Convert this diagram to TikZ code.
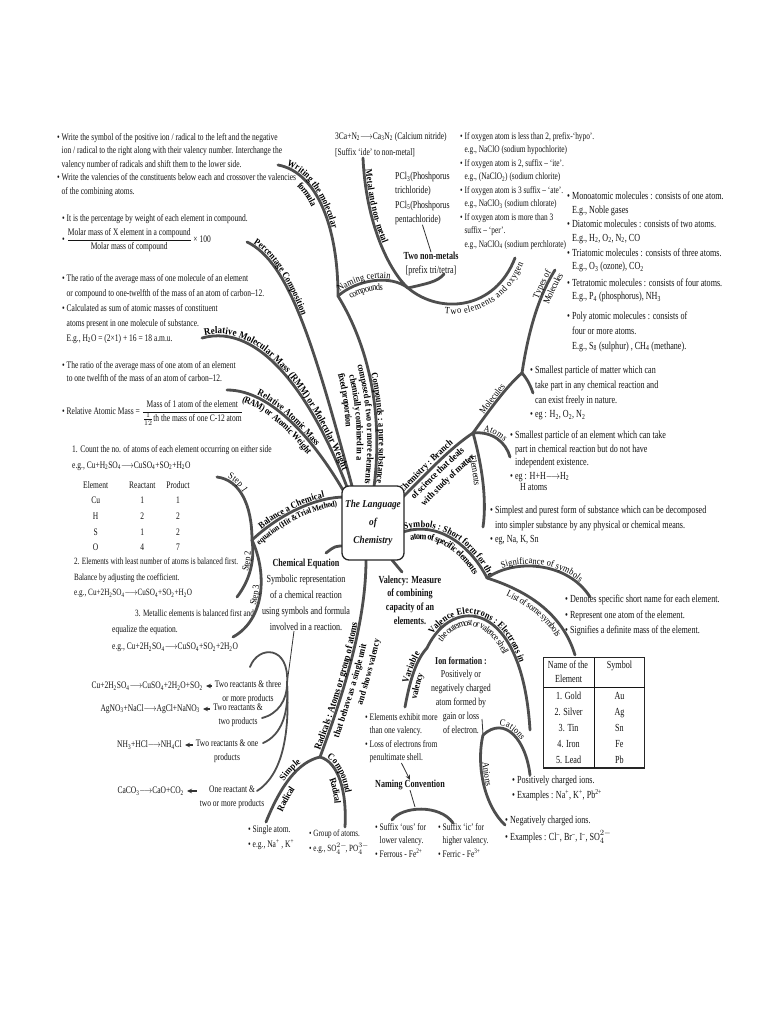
\documentclass[tikz,border=0pt]{standalone}
\usepackage{fontspec}
\setmainfont{Liberation Serif}[FakeStretch=0.75]
\newfontfamily\labfam{Liberation Serif}[FakeStretch=0.88]
\usepackage{amsmath}
\usepackage{array}
\usetikzlibrary{arrows.meta, decorations.text}

\definecolor{brgray}{RGB}{78,78,78}
\newcommand\txtsz{\fontsize{10}{13.5}\selectfont}
\newcommand\txtszb{\fontsize{10.8}{13.5}\selectfont}
\newcommand\lf{\labfam\bfseries\fontsize{9.5}{11}\selectfont}
\newcommand\lfb{\labfam\bfseries\fontsize{10}{12}\selectfont}
\newcommand\lfn{\labfam\fontsize{9.5}{11}\selectfont}
\newcommand\lfs{\labfam\bfseries\fontsize{8.3}{10}\selectfont}
\newcommand\sbs[1]{\textsubscript{#1}}
\newcommand\sps[1]{\textsuperscript{#1}}
\newcommand\rarr{\scalebox{0.8}[1]{$\longrightarrow$}}
\newcommand\ind{\phantom{\textbullet\ }}

\tikzset{
  txt/.style={font=\txtsz, align=left, inner sep=0pt, anchor=north west},
  txtb/.style={font=\txtszb, align=left, inner sep=0pt, anchor=north west},
  ctxt/.style={font=\txtsz, align=center, inner sep=0pt},
  branch/.style={draw=brgray, line width=2.8pt, line cap=round},
  twig/.style={draw=brgray, line width=1.8pt, line cap=round},
  thinln/.style={draw=black!80, line width=0.8pt},
  arr/.style={draw=black!80, line width=1.3pt, -{Stealth[length=5pt,width=4.5pt]}},
  lbl/.style n args={3}{postaction={decorate, decoration={text along path, raise=#1, text align={#2}, text={|\lf|#3}}}},
  lblb/.style n args={3}{postaction={decorate, decoration={text along path, raise=#1, text align={#2}, text={|\lfb|#3}}}},
  lbln/.style n args={3}{postaction={decorate, decoration={text along path, raise=#1, text align={#2}, text={|\lfn|#3}}}},
  lbls/.style n args={3}{postaction={decorate, decoration={text along path, raise=#1, text align={#2}, text={|\lfs|#3}}}},
}

\begin{document}
\begin{tikzpicture}[x=1pt, y=-1pt, color=black!92]
\fill[white] (0,0) rectangle (768,1024);
\useasboundingbox (0,0) rectangle (768,1024);

% junctions and free ends
\coordinate (J1) at (338,296);
\coordinate (J2) at (408,288);
\coordinate (JS) at (252,540);
\coordinate (JR) at (320,757);
\coordinate (JV) at (427,648);
\coordinate (JI) at (483,735);
\coordinate (JM) at (473,433);
\coordinate (JM2) at (522,373);
\coordinate (JY) at (487,578);
\coordinate (H) at (287,684);
\coordinate (nchub) at (415,807);
\coordinate (wEnd) at (278,165);
\coordinate (mnEnd) at (363,158);
\coordinate (tnEnd) at (444,274);
\coordinate (teoEnd) at (515,258);
\coordinate (pcEnd) at (247,242);
\coordinate (rmmEnd) at (202,338);
\coordinate (ramEnd) at (227,390);
\coordinate (s1End) at (217,477);
\coordinate (s2End) at (237,597);
\coordinate (s3End) at (233,637);
\coordinate (srEnd) at (266,822);
\coordinate (crEnd) at (345,827);
\coordinate (vvEnd) at (405,707);
\coordinate (veEnd) at (530,730);
\coordinate (catEnd) at (530,775);
\coordinate (anEnd) at (505,825);
\coordinate (typEnd) at (555,270);
\coordinate (mdEnd) at (533,393);
\coordinate (atEnd) at (510,457);
\coordinate (elEnd) at (483,527);
\coordinate (sigEnd) at (590,597);
\coordinate (lstEnd) at (575,655);
\coordinate (ceEnd) at (326,553);
\coordinate (valEnd) at (402,572);
\coordinate (ncL) at (392,820);
\coordinate (ncR) at (453,823);
\coordinate (ionEnd) at (482,719);
\coordinate (r1) at (250,667);
\coordinate (r2) at (262,718);
\coordinate (r3) at (263,743);
\coordinate (r4) at (257,791);
\coordinate (inRAM) at (343,490);
\coordinate (inRMM) at (347,487);
\coordinate (inPC) at (352,486);
\coordinate (inCS) at (374,487);
\coordinate (inBAL) at (345,497);
\coordinate (inCE) at (345,546);
\coordinate (inR) at (366,560);
\coordinate (inV) at (392,560);
\coordinate (inCB) at (403,497);
\coordinate (inSY) at (403,532);

% left column texts
\node[txt] (formulatxt) at (57,133) {\textbullet\ Write the symbol of the positive ion / radical to the left and the negative\\
\ind ion / radical to the right along with their valency number. Interchange the\\
\ind valency number of radicals and shift them to the lower side.\\
\textbullet\ Write the valencies of the constituents below each and crossover the valencies\\
\ind of the combining atoms.};
\node[txt] (pcttxt) at (62,214) {\textbullet\ It is the percentage by weight of each element in compound.};
\node[txt, anchor=west] (pctfrac) at (62,240) {\textbullet\ $\dfrac{\text{Molar mass of X element in a compound}}{\text{Molar mass of compound}}$\,× 100};
\node[txt, font=\fontsize{10}{15}\selectfont] (rmmtxt) at (62,274) {\textbullet\ The ratio of the average mass of one molecule of an element\\
\ind or compound to one-twelfth of the mass of an atom of carbon--12.\\
\textbullet\ Calculated as sum of atomic masses of constituent\\
\ind atoms present in one molecule of substance.\\
\ind E.g., H\sbs{2}O = (2×1) + 16 = 18 a.m.u.};
\node[txt] (ramtxt) at (62,361) {\textbullet\ The ratio of the average mass of one atom of an element\\
\ind to one twelfth of the mass of an atom of carbon--12.};
\node[txt, anchor=west] (ramfrac) at (62,413) {\textbullet\ Relative Atomic Mass = $\dfrac{\text{Mass of 1 atom of the element}}{\frac{1}{12}\text{th the mass of one C-12 atom}}$};
\node[txt, font=\fontsize{10}{16}\selectfont] (step1txt) at (72,445) {1. Count the no. of atoms of each element occurring on either side\\
e.g., Cu+H\sbs{2}SO\sbs{4}\rarr CuSO\sbs{4}+SO\sbs{2}+H\sbs{2}O};
\node[txt] (atomtab) at (83,477) {\renewcommand\arraystretch{1.16}\begin{tabular}{@{}c@{\hspace{21pt}}c@{\hspace{11pt}}c@{}}
Element & Reactant & Product\\ Cu & 1 & 1\\ H & 2 & 2\\ S & 1 & 2\\ O & 4 & 7\end{tabular}};
\node[txt, font=\fontsize{9.6}{15.5}\selectfont] (step2txt) at (74,558) {2. Elements with least number of atoms is balanced first.\\
Balance by adjusting the coefficient.\\
e.g., Cu+2H\sbs{2}SO\sbs{4}\rarr CuSO\sbs{4}+SO\sbs{2}+H\sbs{2}O};
\node[txt, font=\fontsize{9.6}{13.5}\selectfont] (step3txt) at (135,610) {3. Metallic elements is balanced first and};
\node[txt] (step3txtb) at (112,625) {equalize the equation.\\[4pt]
e.g., Cu+2H\sbs{2}SO\sbs{4}\rarr CuSO\sbs{4}+SO\sbs{2}+2H\sbs{2}O};

% reaction types
\node[ctxt] (d1) at (248,692) {Two reactants \& three\\or more products};
\node[ctxt] (d2) at (238,715) {Two reactants \&\\two products};
\node[ctxt] (d3) at (227,751) {Two reactants \& one\\products};
\node[ctxt] (d4) at (232,797) {One reactant \&\\two or more products};
\node[txt, anchor=east] (e1) at (203,686) {Cu+2H\sbs{2}SO\sbs{4}\rarr CuSO\sbs{4}+2H\sbs{2}O+SO\sbs{2}};
\node[txt, anchor=east] (e2) at (200,709) {AgNO\sbs{3}+NaCl\rarr AgCl+NaNO\sbs{3}};
\node[txt, anchor=east] (e3) at (182,745) {NH\sbs{3}+HCl\rarr NH\sbs{4}Cl};
\node[txt, anchor=east] (e4) at (184,791) {CaCO\sbs{3}\rarr CaO+CO\sbs{2}};
\foreach \i in {1,2,3,4}
  \draw[arr] ([xshift=-3pt]e\i.east -| d\i.west) -- ([xshift=3pt]e\i.east);

% top and right texts
\node[txt, font=\fontsize{10}{16}\selectfont] (ca3n2) at (335,132) {3Ca+N\sbs{2}\rarr Ca\sbs{3}N\sbs{2} (Calcium nitride)\\{[}Suffix `ide' to non-metal{]}};
\node[txtb, font=\fontsize{10.5}{14.3}\selectfont] (pcl) at (395,172) {PCl\sbs{3}(Phoshporus\\trichloride)\\PCl\sbs{5}(Phoshporus\\pentachloride)};
\node[ctxt, font=\txtszb] (nonmet) at (431,264) {\textbf{Two non-metals}\\{[}prefix tri/tetra{]}};
\node[txt, font=\fontsize{9.8}{13.5}\selectfont] (oxytxt) at (460,132) {\textbullet\ If oxygen atom is less than 2, prefix-`hypo'.\\
\ind e.g., NaClO (sodium hypochlorite)\\
\textbullet\ If oxygen atom is 2, suffix -- `ite'.\\
\ind e.g., (NaClO\sbs{2}) (sodium chlorite)\\
\textbullet\ If oxygen atom is 3 suffix -- `ate'.\\
\ind e.g., NaClO\sbs{3} (sodium chlorate)\\
\textbullet\ If oxygen atom is more than 3\\
\ind suffix -- `per'.\\
\ind e.g., NaClO\sbs{4} (sodium perchlorate)};
\node[txtb] (moltypes) at (567,192) {\textbullet\ Monoatomic molecules : consists of one atom.\\
\ind E.g., Noble gases\\[1pt]
\textbullet\ Diatomic molecules : consists of two atoms.\\
\ind E.g., H\sbs{2}, O\sbs{2}, N\sbs{2}, CO\\[1.5pt]
\textbullet\ Triatomic molecules : consists of three atoms.\\
\ind E.g., O\sbs{3} (ozone), CO\sbs{2}\\[3pt]
\textbullet\ Tetratomic molecules : consists of four atoms.\\
\ind E.g., P\sbs{4} (phosphorus), NH\sbs{3}\\[6pt]
\textbullet\ Poly atomic molecules : consists of\\[1.5pt]
\ind four or more atoms.\\[1.5pt]
\ind E.g., S\sbs{8} (sulphur) , CH\sbs{4} (methane).};
\node[txtb, font=\fontsize{10.8}{14.7}\selectfont] (moltxt) at (530,366) {\textbullet\ Smallest particle of matter which can\\
\ind take part in any chemical reaction and\\
\ind can exist freely in nature.\\
\textbullet\ eg : H\sbs{2}, O\sbs{2}, N\sbs{2}};
\node[txtb] (atomtxt) at (510,431) {\textbullet\ Smallest particle of an element which can take\\
\ind part in chemical reaction but do not have\\
\ind independent existence.\\
\textbullet\ eg : H+H\rarr H\sbs{2}\\[-2pt]
\ind\hspace{5pt}H atoms};
\node[txtb, font=\fontsize{10.8}{14.5}\selectfont] (elemtxt) at (490,506) {\textbullet\ Simplest and purest form of substance which can be decomposed\\
\ind into simpler substance by any physical or chemical means.\\
\textbullet\ eg, Na, K, Sn};
\node[txtb, font=\fontsize{10.8}{15.5}\selectfont] (sigtxt) at (565,595) {\textbullet\ Denotes specific short name for each element.\\
\textbullet\ Represent one atom of the element.\\
\textbullet\ Signifies a definite mass of the element.};
\node[draw=black!85, line width=1.2pt, inner sep=0pt, anchor=north west, font=\txtszb] (symtab) at (543,657) {\setlength\tabcolsep{3pt}\renewcommand\arraystretch{1.18}%
\begin{tabular}{>{\centering\arraybackslash}p{44pt}!{\vrule width 0.9pt}>{\centering\arraybackslash}p{44pt}}
Name of the\newline Element & Symbol\\ \noalign{\hrule height 1.3pt}
1. Gold & Au\\ 2. Silver & Ag\\ 3. Tin & Sn\\ 4. Iron & Fe\\ 5. Lead & Pb
\end{tabular}};
\node[txtb, font=\fontsize{10.8}{15}\selectfont] (cattxt) at (512,776) {\textbullet\ Positively charged ions.\\ \textbullet\ Examples : Na\sps{+}, K\sps{+}, Pb\sps{2+}};
\node[txtb, font=\fontsize{10.8}{16.5}\selectfont] (antxt) at (505,816) {\textbullet\ Negatively charged ions.\\ \textbullet\ Examples : Cl\sps{--}, Br\sps{--}, I\sps{--}, SO$_4^{2-}$};

% lower middle texts
\node[ctxt, font=\fontsize{10.8}{16}\selectfont] (chemeq) at (306,595) {\textbf{Chemical Equation}\\Symbolic representation\\of a chemical reaction\\using symbols and formula\\involved in a reaction.};
\node[ctxt, font=\bfseries\fontsize{10.8}{13.7}\selectfont] (valency) at (410,600) {Valency: Measure\\of combining\\capacity of an\\elements.};
\node[ctxt, font=\fontsize{10.5}{13.8}\selectfont] (ionf) at (461,695) {\textbf{Ion formation :}\\Positively or\\negatively charged\\atom formed by\\gain or loss\\of electron.};
\node[txt] (varval) at (365,713) {\textbullet\ Elements exhibit more\\ \ind than one valency.\\ \textbullet\ Loss of electrons from\\ \ind penultimate shell.};
\node[font=\bfseries\txtszb, inner sep=0pt] (namconv) at (410,785) {Naming Convention};
\node[txt] (oustxt) at (375,823) {\textbullet\ Suffix `ous' for\\ \ind lower valency.\\ \textbullet\ Ferrous - Fe\sps{2+}};
\node[txt] (ictxt) at (438,823) {\textbullet\ Suffix `ic' for\\ \ind higher valency.\\ \textbullet\ Ferric - Fe\sps{3+}};
\node[txt, font=\fontsize{10}{15}\selectfont] (simptxt) at (248,825) {\textbullet\ Single atom.\\ \textbullet\ e.g., Na\sps{+} , K\sps{+}};
\node[txt, font=\fontsize{9.5}{15}\selectfont] (comptxt) at (309,830) {\textbullet\ Group of atoms.\\ \textbullet\ e.g., SO$_4^{2-}$\!, PO$_4^{3-}$};

% branches, upper left
\draw[branch, lbl={2pt}{left, left indent=8pt}{Writing the molecular}, lbl={-10pt}{left, left indent=30pt}{formula}] (wEnd) .. controls (316,172) and (338,225) .. (J1);
\draw[branch, lbln={2pt}{left, left indent=4pt}{Naming certain}, lbln={-10pt}{left, left indent=10pt}{compounds}, lbln={-10pt}{right, right indent=2pt}{Two elements and oxygen}] (J1) .. controls (356,280) and (390,274) .. (J2) .. controls (440,315) and (495,310) .. (teoEnd);
\draw[branch, lbl={2pt}{left, left indent=12pt}{Metal and non- metal}] (mnEnd) .. controls (366,225) and (390,272) .. (J2);
\draw[branch] (J2) .. controls (425,284) and (438,282) .. (tnEnd);
\draw[thinln] (pcl.south) -- (nonmet.north);
\draw[branch, lbl={2pt}{right, right indent=4pt}{Compounds : a pure substance}, lbl={-9.5pt}{right, right indent=2pt}{composed of two or more elements}, lbl={-20pt}{right, right indent=26pt}{chemically combined in a}, lbl={-30.5pt}{right, right indent=62pt}{fixed proportion}] (J1) .. controls (362,335) and (385,400) .. (inCS);
\draw[branch, lbl={2pt}{left, left indent=6pt}{Percentage Composition}] (pcEnd) .. controls (290,262) and (315,350) .. (inPC);
\draw[branch, lblb={2pt}{left, left indent=3pt}{Relative Molecular Mass (RMM) or Molecular Weight}] (rmmEnd) .. controls (260,322) and (312,396) .. (inRMM);
\draw[branch, lbl={2pt}{left, left indent=30pt}{Relative Atomic Mass}, lbl={-10pt}{left, left indent=18pt}{(RAM) or Atomic Weight}] (ramEnd) .. controls (272,390) and (315,442) .. (inRAM);

% branches, left
\draw[branch, lbl={2pt}{left, left indent=14pt}{Balance a Chemical}, lbls={-9pt}{left, left indent=2pt}{equation (Hit {\&}Trial Method)}] (JS) .. controls (282,512) and (318,497) .. (inBAL);
\draw[branch, lbln={2pt}{left, left indent=10pt}{Step 1}] (s1End) .. controls (240,480) and (252,505) .. (JS);
\draw[branch, lbln={2pt}{left, left indent=28pt}{Step 2}] (s2End) .. controls (250,580) and (255,560) .. (JS);
\draw[branch, lbln={2pt}{left, left indent=40pt}{Step 3}] (s3End) .. controls (264,620) and (268,575) .. (JS);
\draw[branch] (inCE) .. controls (335,546) .. (ceEnd);
\draw[thinln] ([xshift=-12pt]chemeq.south) -- (H);
\draw[twig] (r1) .. controls (258,645) and (290,645) .. (H);
\draw[twig] (H) .. controls (287,700) and (278,714) .. (r2);
\draw[twig] (H) .. controls (289,712) and (282,735) .. (r3);
\draw[twig] (H) .. controls (290,735) and (282,775) .. (r4);

% branches, bottom
\draw[branch, lblb={2pt}{left, left indent=6pt}{Radicals : Atoms or group of atoms}, lbl={-11pt}{left, left indent=24pt}{that behave as a single unit}, lbl={-23pt}{left, left indent=62pt}{and shows valency}] (JR) .. controls (345,690) and (366,620) .. (inR);
\draw[branch, lbl={3pt}{left, left indent=44pt}{Simple}, lbl={-11pt}{left, left indent=16pt}{Radical}] (srEnd) .. controls (281,785) and (298,762) .. (JR);
\draw[branch, lbl={2pt}{left, left indent=6pt}{Compound}, lbl={-10pt}{left, left indent=28pt}{Radical}] (JR) .. controls (338,762) and (347,790) .. (crEnd);
\draw[branch] (inV) .. controls (397,566) .. (valEnd);
\draw[thinln] (valency.south east) -- (JV);
\draw[branch, lbl={2pt}{left, left indent=24pt}{Variable}, lbl={-10pt}{left, left indent=10pt}{valency}] (vvEnd) .. controls (410,680) and (416,660) .. (JV);
\draw[branch, lbl={2pt}{left, left indent=14pt}{Valence Electrons : Electrons in}, lbln={-10pt}{left, left indent=14pt}{the outermost or valence shell}] (JV) .. controls (452,595) and (522,598) .. (veEnd);
\draw[thinln] (ionEnd) -- (JI);
\draw[branch, lbln={2pt}{left, left indent=18pt}{Cations}] (JI) .. controls (505,715) and (526,740) .. (catEnd);
\draw[branch, lbln={2pt}{left, left indent=28pt}{Anions}] (JI) .. controls (476,765) and (484,805) .. (anEnd);
\draw[arr, line width=0.8pt] (varval.south) -- (namconv.north);
\draw[thinln] (namconv.south) -- (nchub);
\draw[branch] (ncL) .. controls (402,806) and (440,804) .. (ncR);

% branches, right
\draw[branch, lbl={3pt}{left, left indent=2pt}{Chemistry : Branch}, lbl={-10pt}{left, left indent=6pt}{of science that deals}, lbl={-22pt}{left, left indent=8pt}{with study of matter}] (inCB) .. controls (425,475) and (450,448) .. (JM);
\draw[branch, lbln={2pt}{center}{Molecules}] (JM) .. controls (493,405) and (508,385) .. (JM2);
\draw[branch, lbln={2pt}{right, right indent=4pt}{Types of}, lbln={-10pt}{right}{Molecules}] (JM2) .. controls (527,340) and (536,300) .. (typEnd);
\draw[branch] (JM2) .. controls (528,380) and (531,387) .. (mdEnd);
\draw[branch, lbln={2pt}{left, left indent=10pt}{Atoms}] (JM) .. controls (492,431) and (506,442) .. (atEnd);
\draw[branch, lbln={-9pt}{left, left indent=22pt}{Elements}] (JM) .. controls (482,465) and (487,500) .. (elEnd);
\draw[branch, lbl={2pt}{left, left indent=2pt}{Symbols : Short form for the}, lbl={-10pt}{left, left indent=6pt}{atom of specific elements}] (inSY) .. controls (440,520) and (472,548) .. (JY);
\draw[branch, lbln={2pt}{center}{Significance of symbols}] (JY) .. controls (515,558) and (568,562) .. (sigEnd);
\draw[branch, lbln={-10pt}{center}{List of some symbols}] (JY) .. controls (525,590) and (562,612) .. (lstEnd);

% centre
\node[draw=black!85, fill=white, line width=1.3pt, rounded corners=7pt, minimum width=62pt, minimum height=74pt, align=center, inner sep=1pt, font=\labfam\bfseries\itshape\fontsize{10.5}{12}\selectfont] (lang) at (373,523) {The Language\\[6pt] of\\[6pt] Chemistry};
\end{tikzpicture}
\end{document}
